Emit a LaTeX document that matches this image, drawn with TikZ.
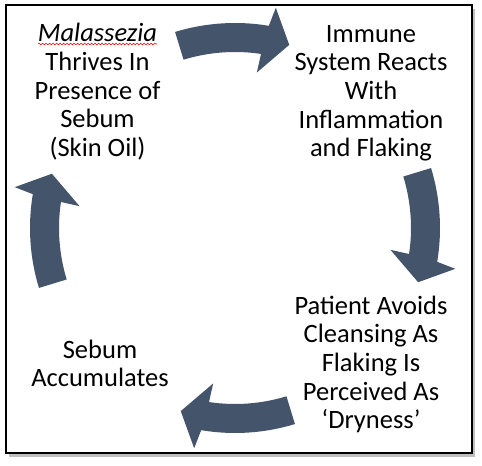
\documentclass[tikz,border=0pt]{standalone}
\usepackage{fontspec}
\setmainfont{Carlito}
\usetikzlibrary{shadows, decorations.pathmorphing, positioning}
\definecolor{cycleblue}{HTML}{44546A}

\begin{document}
\begin{tikzpicture}[x=1bp, y=1bp,
        cyclearrow/.style={fill=cycleblue},
        steptext/.style={align=center, anchor=base, inner sep=0pt, font=\fontsize{26.6}{28.8}\selectfont}]

        \useasboundingbox (0,0) rectangle (482,466);

        % Khung ngoài có bóng
        \draw[line width=2bp, fill=white, drop shadow={shadow xshift=3bp, shadow yshift=-4bp, opacity=0.5}] (5.5,460.5) rectangle (471.5,13);

        % Bốn mũi tên cong của vòng tròn
        \foreach \a in {90,0,-90,180}
          \fill[cyclearrow, shift={(235,238)}] (\a+17:205) arc[start angle=\a+17, end angle=\a-9.5, radius=205]
            -- (\a-10.5:224) -- (\a-16.5:191) -- (\a-8:157) -- (\a-8.5:176)
            arc[start angle=\a-8.5, end angle=\a+17, radius=176] -- cycle;

        % Các bước (anchor=base nằm ở dòng cuối)
        \node[steptext] (thrive) at (97.5,309.5) {\textit{Malassezia}\\Thrives In\\Presence of\\Sebum\\(Skin Oil)};
        \node[steptext] (immune) at (371,309) {Immune\\System Reacts\\With\\Inflammation\\and Flaking};
        \node[steptext] (avoid) at (371,37) {Patient Avoids\\Cleansing As\\Flaking Is\\Perceived As\\‘Dryness’};
        \node[steptext] (accum) at (100,79.3) {Sebum\\Accumulates};

        % Gạch chân lượn sóng
        \draw[red, line width=0.6bp, decorate, decoration={snake, segment length=3.5bp, amplitude=0.8bp}] (38,422) -- (157,422);

\end{tikzpicture}
\end{document}
